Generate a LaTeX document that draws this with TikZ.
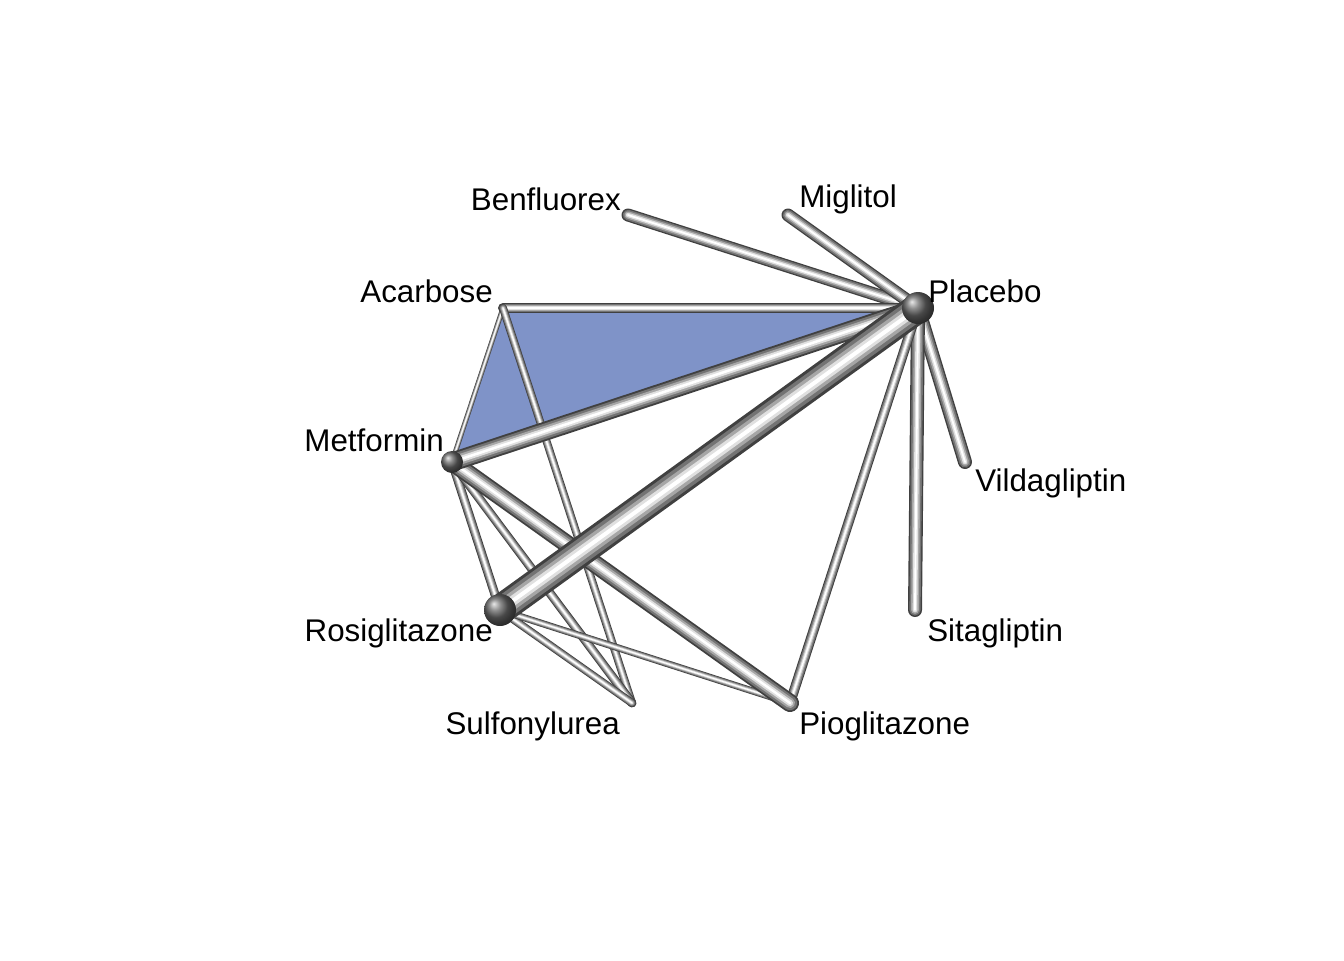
\documentclass[tikz,border=0pt]{standalone}
\usepackage{fontspec}
\setmainfont{Liberation Sans}
\begin{document}
\begin{tikzpicture}[x=0.75pt,y=-0.75pt,
  lab/.style={font=\fontsize{23.5}{28}\selectfont,inner sep=0pt},
  dot/.style={circle,fill=black!70,inner sep=0pt}]
\useasboundingbox (0,0) rectangle (1344,960);
\coordinate (Pla) at (918,308);
\coordinate (Ben) at (628,215);
\coordinate (Mig) at (788,215);
\coordinate (Aca) at (503,308);
\coordinate (Met) at (452,462);
\coordinate (Ros) at (500,610);
\coordinate (Sul) at (632,703);
\coordinate (Pio) at (790,703);
\coordinate (Sit) at (915,610);
\coordinate (Vil) at (965,462);
\fill[fill={rgb,255:red,127;green,147;blue,200}] (Aca) -- (Pla) -- (Met) -- cycle;
\foreach \a/\b/\w in {Pla/Ben/13,Pla/Mig/13,Pla/Aca/10,Pla/Vil/14,Pla/Sit/14,Pla/Pio/10,
  Aca/Met/5,Aca/Sul/8,Met/Ros/9,Met/Sul/9,Ros/Sul/8,Ros/Pio/7,Met/Pio/18,Pla/Met/19,Pla/Ros/30}{
  \draw[line cap=round,black!75,line width=\w*0.75pt] (\a) -- (\b);
  \draw[line cap=round,black!55,line width=\w*0.6pt] (\a) -- (\b);
  \draw[line cap=round,black!35,line width=\w*0.42pt] (\a) -- (\b);
  \draw[line cap=round,black!12,line width=\w*0.25pt] (\a) -- (\b);
  \draw[line cap=round,white,line width=\w*0.1pt] (\a) -- (\b);
}
\shade[ball color=black!60] (Pla) circle (16);
\shade[ball color=black!60] (Ros) circle (16);
\shade[ball color=black!60] (Met) circle (11);
\node[lab,anchor=west] (lPla) at (928,291) {Placebo};
\node[lab,anchor=east] (lBen) at (621,199) {Benfluorex};
\node[lab,anchor=west] (lMig) at (799,199) {Miglitol};
\node[lab,anchor=east] (lAca) at (493,291) {Acarbose};
\node[lab,anchor=east] (lMet) at (444,440) {Metformin};
\node[lab,anchor=east] (lRos) at (493,633) {Rosiglitazone};
\node[lab,anchor=east] (lSul) at (620,726) {Sulfonylurea};
\node[lab,anchor=west] (lPio) at (799,726) {Pioglitazone};
\node[lab,anchor=west] (lSit) at (927,633) {Sitagliptin};
\node[lab,anchor=west] (lVil) at (975,483) {Vildagliptin};
\end{tikzpicture}
\end{document}
